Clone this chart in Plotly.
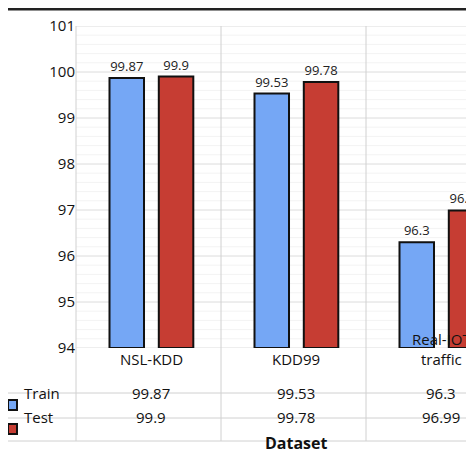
import plotly.graph_objects as go

categories = ["NSL-KDD", "KDD99", "Real-IOT<br>traffic"]
train = [99.87, 99.53, 96.3]
test = [99.9, 99.78, 96.99]
train_lbl = ["99.87", "99.53", "96.3"]
test_lbl = ["99.9", "99.78", "96.99"]
yticks = [94, 95, 96, 97, 98, 99, 100, 101]

W, H = 474, 474
L, T, B = 68, 18, 134
PH = H - T - B
PW = W - L
def px(x): return (x - L) / PW
def py(y): return (H - B - y) / PH

F = "Open Sans"
fig = go.Figure()
for vals, lbl, col in [(train, train_lbl, "#75a7f5"), (test, test_lbl, "#c63d33")]:
    fig.add_bar(x=[0, 1, 2], y=[v - 94 for v in vals], base=94,
                marker=dict(color=col, line=dict(color="#111", width=2)),
                text=lbl, textposition="outside", textfont=dict(size=13, color="#222", family=F),
                cliponaxis=False)

shapes = []
ann = []
for i in range(94 * 5, 101 * 5 + 1):
    v = i / 5
    shapes.append(dict(type="line", xref="paper", yref="y", x0=0, x1=1, y0=v, y1=v,
                       line=dict(color="#f3f3f3" if i % 5 else "#dcdcdc", width=1), layer="below"))
for bx in [L, 213, 358]:
    shapes.append(dict(type="line", xref="paper", yref="paper", x0=px(bx), x1=px(bx),
                       y0=py(433), y1=1, line=dict(color="#d0d0d0", width=1)))
for hy in [385, 410, 433]:
    shapes.append(dict(type="line", xref="paper", yref="paper", x0=px(0), x1=1,
                       y0=py(hy), y1=py(hy), line=dict(color="#d0d0d0", width=1)))
shapes.append(dict(type="line", xref="paper", yref="paper", x0=px(0), x1=1, y0=py(1), y1=py(1),
                   line=dict(color="#222", width=3)))
shapes.append(dict(type="line", xref="paper", yref="paper", x0=px(0), x1=1, y0=py(472), y1=py(472),
                   line=dict(color="#444", width=4)))
for yy, col in [(397, "#75a7f5"), (421, "#c63d33")]:
    shapes.append(dict(type="rect", xref="paper", yref="paper", x0=px(0), x1=px(9),
                       y0=py(yy + 5), y1=py(yy - 5), fillcolor=col, line=dict(color="#111", width=2)))
tf = dict(size=15, color="#111", family=F)
ann.append(dict(text="Train", xref="paper", yref="paper", x=px(14), y=py(397), xanchor="left",
                showarrow=False, font=tf))
ann.append(dict(text="Test", xref="paper", yref="paper", x=px(14), y=py(421), xanchor="left",
                showarrow=False, font=tf))
for i, c in enumerate(categories):
    ann.append(dict(text=c, x=i, xref="x", yref="paper", y=py(363), showarrow=False, font=tf))
    ann.append(dict(text=train_lbl[i], x=i, xref="x", yref="paper", y=py(397), showarrow=False, font=tf))
    ann.append(dict(text=test_lbl[i], x=i, xref="x", yref="paper", y=py(421), showarrow=False, font=tf))
ann.append(dict(text="<b>Dataset</b>", xref="paper", yref="paper", x=px(288), y=py(448),
                showarrow=False, font=dict(size=16, color="#111", family=F)))

fig.update_layout(
    width=W, height=H, margin=dict(l=L, r=0, t=T, b=B),
    paper_bgcolor="white", plot_bgcolor="white", showlegend=False,
    barmode="group", bargap=0.32, bargroupgap=0.3,
    xaxis=dict(range=[-0.52, 2.28], showticklabels=False, showgrid=False, zeroline=False),
    yaxis=dict(range=[94, 101], tickvals=yticks, showgrid=False, zeroline=False,
               tickfont=dict(size=15, color="#111", family=F), ticks="", ticklen=0),
    shapes=shapes, annotations=ann,
)
fig.write_html("out.html")
